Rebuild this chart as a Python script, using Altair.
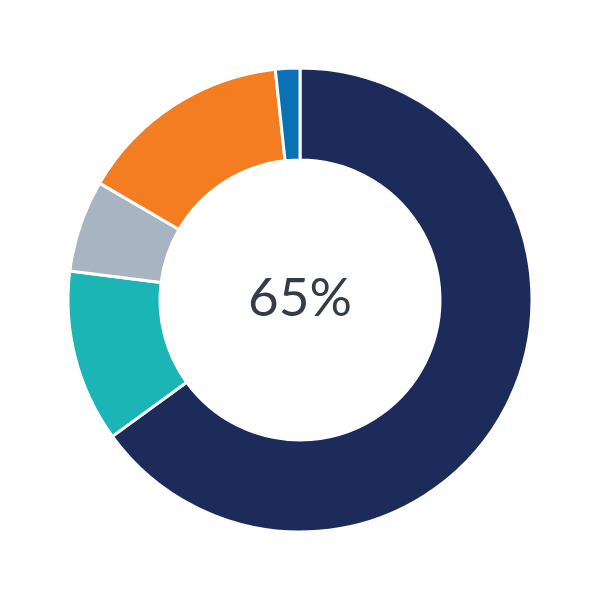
import altair as alt
import pandas as pd

categories = ["A", "B", "C", "D", "E"]
values = [65, 12, 6.4, 14.9, 1.7]
colors = ["#1c2b5a", "#1bb5b6", "#a9b4c2", "#f47d21", "#0a72b4"]
center_label = ["65%"]

df = pd.DataFrame({"cat": categories, "value": values, "order": list(range(len(values)))})

arcs = alt.Chart(df).mark_arc(outerRadius=232, innerRadius=140, stroke="white", strokeWidth=3).encode(
    theta=alt.Theta("value:Q", stack=True),
    order=alt.Order("order:Q"),
    color=alt.Color("cat:N", scale=alt.Scale(domain=categories, range=colors), legend=None),
)

text = alt.Chart(pd.DataFrame({"t": center_label})).mark_text(
    font="Lato", fontSize=53, color="#333d47", align="center", baseline="middle"
).encode(text="t:N")

chart = alt.layer(arcs, text).properties(
    width=584, height=584, padding=0, autosize=alt.AutoSizeParams(type="none")
).configure_view(stroke=None)

chart.save("out.html", embed_options={"renderer": "svg", "actions": False})
